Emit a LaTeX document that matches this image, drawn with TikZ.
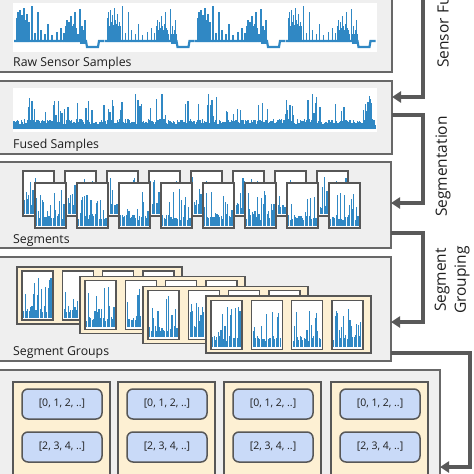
\documentclass[tikz,border=0pt]{standalone}
\usepackage{fontspec}
\setmainfont{Open Sans}
\usetikzlibrary{arrows.meta,calc}
\definecolor{panelfill}{HTML}{EFEFEF}
\definecolor{panelline}{HTML}{686868}
\definecolor{conncol}{HTML}{595959}
\definecolor{sigblue}{HTML}{3088C4}
\definecolor{groupfill}{HTML}{FDF0D3}
\definecolor{boxblue}{HTML}{C9DAF8}
\definecolor{darkline}{HTML}{575757}
\definecolor{labeltext}{HTML}{1E1E1E}
\tikzset{
  panel/.style={draw=panelline, fill=panelfill, line width=1.6pt, rectangle, inner sep=0pt, outer sep=0pt, anchor=north west},
  plabel/.style={anchor=base west, inner sep=0pt, font=\fontsize{12.3}{14}\selectfont, text=labeltext},
  rlabel/.style={rotate=90, inner sep=0pt, font=\fontsize{15.5}{20}\selectfont, text=labeltext, align=center},
  conn/.style={draw=conncol, line width=3.6pt, -{Triangle[length=9pt,width=11pt]}},
  spike/.style={draw=sigblue, line width=1.1pt},
  thinspike/.style={draw=sigblue, line width=1.3pt},
  thumbline/.style={draw=darkline, line width=1.2pt},
  groupbox/.style={draw=darkline, fill=groupfill, line width=1.5pt},
  idxbox/.style={draw=darkline, fill=boxblue, line width=1.5pt, rounded corners=6pt, minimum width=80pt, minimum height=30pt, inner sep=0pt, font=\fontsize{10.5}{12}\selectfont, text=labeltext},
}
\newcommand\drawthumb[3]{%
  \fill[white] (#1,#2) rectangle ++(31,#3);
  \foreach \k in {0,...,20}{
    \pgfmathsetmacro\xx{#1+1.8+\k*1.36}
    \pgfmathsetmacro\rr{rnd}
    \pgfmathsetmacro\tp{ifthenelse(\rr<0.45, #2+#3*(0.12+0.55*rnd), #2+#3-8-6*rnd)}
    \draw[spike] (\xx,#2+#3-2.5) -- (\xx,\tp);
  }
  \draw[thumbline] (#1,#2) rectangle ++(31,#3);
}
\begin{document}
\begin{tikzpicture}[x=1pt,y=-1pt]
\pgfmathsetseed{11}
\useasboundingbox (0,0) rectangle (474,474);
\clip (0,0) rectangle (474,474);
\fill[white] (0,0) rectangle (474,474);

% panels
\node[panel, minimum width=397pt, minimum height=112pt] (p1) at (-5,-40) {};
\node[panel, minimum width=397pt, minimum height=73pt] (p2) at (-5,81) {};
\node[panel, minimum width=396pt, minimum height=86pt] (p3) at (-5,162) {};
\node[panel, minimum width=396pt, minimum height=104pt] (p4) at (-5,257) {};
\node[panel, minimum width=445pt, minimum height=150pt] (p5) at (-5,370) {};

% raw sensor samples
\fill[white] (13,3) rectangle (377,52);
\foreach \p in {0,1,2,3}{
  \begin{scope}[shift={(14+90.5*\p,0)}]
    \fill[sigblue] (3,26) rectangle (16,42);
    \fill[sigblue] (51,30) rectangle (63,42);
    \foreach \x/\t in {3/18,4/12,5/26,6/10,7/22,8/15,9/25,10/8,11/20,12/24,13/14,14/27,15/22,18/6,21/33,24/12,27/30,31/34,34/24,38/35,43/32,47/28,50/33,52/26,53/20,54/30,55/22,56/28,57/16,58/26,59/30,60/24,61/12,62/28,64/34,66/9,68/26,70/30,71/20}
      \draw[thinspike] (\x,42) -- (\x,\t);
    \fill[sigblue] (66,34) rectangle (72,44);
    \draw[sigblue, line width=2.2pt] (0,41) -- (72,41) -- (73,47) -- (84,47) -- (85,41) -- (90,41);
  \end{scope}
}
\node[plabel] (l1) at (13,66) {Raw Sensor Samples};

% fused samples
\fill[white] (13,88) rectangle (377,132);
\foreach \k in {0,...,300}{
  \pgfmathsetmacro\xx{14+\k*1.2}
  \pgfmathsetmacro\pp{ifthenelse(sin(\xx*14)>0.3,0.5,0.07)}
  \pgfmathsetmacro\tp{ifthenelse(rnd<\pp, 94+22*rnd, 119+5*rnd)}
  \draw[spike] (\xx,129) -- (\xx,\tp);
}
\draw[sigblue, line width=4pt] (14,126.5) -- (376,126.5);
\node[plabel] (l2) at (13,148) {Fused Samples};

% segments
\foreach \i in {0,...,7}{ \drawthumb{23+42*\i}{171}{45} }
\foreach \i in {0,...,7}{ \drawthumb{35+42*\i}{183}{45} }
\node[plabel] (l3) at (13,243) {Segments};

% segment groups
\foreach \g in {0,1,2,3}{
  \pgfmathsetmacro\gx{17+63*\g}
  \pgfmathsetmacro\gy{267+9.7*\g}
  \draw[groupbox] (\gx,\gy) rectangle ++(165,57);
  \foreach \t in {0,1,2,3}{
    \pgfmathsetmacro\tx{\gx+5+40.3*\t}
    \drawthumb{\tx}{\gy+4}{49}
  }
}
\node[plabel] (l4) at (13,355) {Segment Groups};

% index columns
\foreach \cx in {13,118,224,331}{
  \draw[groupbox] (\cx,382) rectangle ++(97,130);
  \node[idxbox] (ia\cx) at (\cx+49,404) {[0, 1, 2, ..]};
  \node[idxbox] (ib\cx) at (\cx+49,447) {[2, 3, 4, ..]};
  \node[idxbox] (ic\cx) at (\cx+49,490) {};
}

% connectors
\coordinate (b1) at (423,97);
\coordinate (b2) at (423,203);
\coordinate (b3) at (423,322);
\coordinate (b4) at (470,467);
\draw[conn] (p1.east |- 0,-20) -| (b1) -- (p2.east |- b1);
\draw[conn] (p2.east |- 0,115) -| (b2) -- (p3.east |- b2);
\draw[conn] (p3.east |- 0,233) -| (b3) -- (p4.east |- b3);
\draw[conn] (p4.east |- 0,353) -| (b4) -- (p5.east |- b4);

% step labels
\node[rlabel, anchor=west] (t1) at (443,68) {Sensor Fusion};
\node[rlabel] (t2) at (443,166.5) {Segmentation};
\node[rlabel] (t3) at (452,280) {Segment\\Grouping};
\end{tikzpicture}
\end{document}
